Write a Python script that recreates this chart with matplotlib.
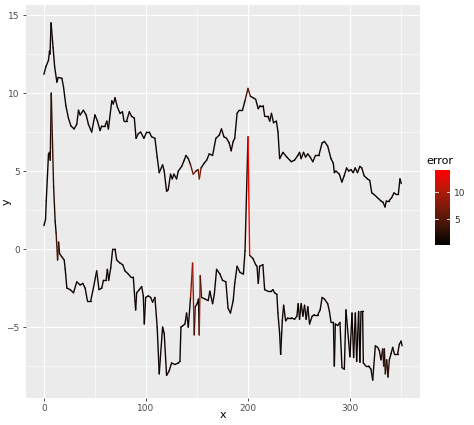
import numpy as np
import matplotlib.pyplot as plt
from matplotlib.collections import LineCollection
from matplotlib.colors import LinearSegmentedColormap, Normalize

# upper series
top_x = [0, 2, 4.5, 5.5, 6, 7, 9, 10.5, 12.7, 14,
         17.6, 19.2, 21.5, 24, 26.4, 29.6, 32.2, 33.9, 35.5, 38.7,
         41.4, 43.6, 46.8, 50, 52.5, 55, 56.7, 59.9, 61.6, 63.2,
         66.5, 68, 69.7, 72, 74.6, 77, 78.5, 81, 83.7, 86,
         88.6, 90.3, 92.5, 94.8, 98, 100.7, 103.3, 105.5, 108.8, 111,
         113, 116.3, 117.9, 120.2, 121.8, 124.1, 125.8, 127.4, 130, 131.7,
         135, 137.5, 139.2, 141.5, 143.7, 146.3, 149, 151.2, 152.3, 154,
         157, 159.5, 162, 165.3, 168.5, 171.8, 174, 176.4, 179, 181.6,
         183.5, 185.5, 187, 189.3, 191.3, 194.6, 197, 200, 202.3, 205,
         207.5, 210, 212, 214.8, 216.4, 219.6, 221.3, 223, 225, 227.8,
         229.4, 231, 234.3, 238, 242.4, 245.6, 248.8, 250.5, 252.1, 254.4,
         256.4, 258.6, 260.9, 263.5, 266.1, 269.4, 272.6, 274.9, 278.1, 281.3,
         283.6, 284.6, 286.2, 289.5, 292, 294.3, 296.6, 298.6, 300.8, 303.1,
         305, 307.3, 309.6, 311.5, 313.8, 317, 319.3, 321.3, 323.5, 326.8,
         330, 332.3, 334.3, 335.6, 338.2, 340.8, 343, 345.3, 347.3, 348.9,
         350.2]
top_y = [11.2, 11.7, 12.1, 12.7, 12.5, 14.5, 12.9, 11.7, 10.7, 11.0,
         10.95, 10.4, 9.2, 8.4, 7.9, 7.7, 8.0, 8.9, 8.6, 8.9,
         8.6, 8.0, 7.5, 8.6, 8.2, 7.6, 7.9, 7.9, 8.2, 7.7,
         9.5, 9.3, 9.7, 9.1, 8.7, 8.8, 8.2, 8.2, 8.8, 8.5,
         8.4, 7.1, 7.4, 7.5, 7.1, 7.5, 7.5, 7.2, 7.1, 5.9,
         4.9, 5.4, 5.0, 3.7, 3.8, 4.8, 4.5, 4.8, 4.5, 5.0,
         5.3, 5.7, 6.0, 5.8, 5.4, 4.8, 5.0, 5.1, 4.5, 5.2,
         5.5, 5.7, 6.1, 6.0, 7.1, 7.3, 7.7, 7.2, 7.1, 6.8,
         6.3, 6.9, 7.1, 8.7, 8.9, 8.9, 9.5, 10.3, 9.8, 9.7,
         9.6, 9.0, 9.2, 9.2, 8.5, 8.5, 8.2, 8.7, 8.1, 8.2,
         7.5, 5.8, 6.2, 5.9, 5.6, 5.7, 6.0, 6.2, 5.8, 6.2,
         5.9, 6.1, 5.9, 5.6, 6.0, 6.0, 6.8, 6.9, 6.6, 5.8,
         5.5, 4.9, 5.0, 4.8, 4.3, 4.7, 5.2, 5.0, 5.1, 4.9,
         5.2, 4.9, 5.3, 5.2, 4.7, 4.5, 4.4, 3.6, 3.5, 3.3,
         3.1, 3.0, 2.7, 3.1, 3.1, 3.3, 3.6, 3.5, 3.5, 4.5,
         4.2]
top_err = [1, 1, 1, 1, 1, 1, 1, 1, 1, 1,
           1, 1, 1, 1, 1, 1, 1, 1, 1, 1,
           1, 1, 1, 1, 1, 1, 1, 1, 1, 1,
           1, 1, 1, 1, 1, 1, 1, 1, 1, 1,
           1, 1, 1, 1, 1, 1, 1, 1, 1, 1,
           1, 1, 1, 1, 1, 1, 1, 1, 1, 1,
           1, 1, 1, 1, 6, 8, 2, 6, 8, 1,
           1, 1, 1, 1, 1, 1, 1, 1, 1, 1,
           1, 1, 1, 1, 1, 1, 4, 6, 1, 1,
           1, 1, 1, 1, 1, 1, 1, 1, 1, 1,
           1, 1, 1, 1, 1, 1, 1, 1, 1, 1,
           1, 1, 1, 1, 1, 1, 1, 1, 1, 1,
           1, 1, 1, 1, 1, 1, 1, 1, 1, 1,
           1, 1, 1, 1, 1, 1, 1, 1, 1, 1,
           1, 1, 1, 1, 1, 1, 1, 1, 1, 1,
           1]

# lower series
bot_x = [0, 1.6, 2.3, 4.5, 5.5, 6.2, 7.2, 9.5, 11, 12,
         13.4, 14.4, 15.4, 17.6, 19.9, 20.9, 22.5, 25.8, 29, 32.2,
         35.5, 38.1, 40.4, 42.6, 45.9, 48.5, 51.7, 54, 56.7, 58.3,
         60.9, 62.2, 63.5, 65.5, 67.4, 69.7, 71.3, 74.6, 77.2, 79.5,
         82.7, 85.3, 87.6, 89.2, 89.9, 90.9, 93.5, 95.8, 97.4, 98.4,
         99.7, 102.3, 104.6, 106.5, 108.8, 111, 113, 116.3, 117.9, 120.2,
         122.8, 125.1, 128.3, 131.7, 133.3, 134.3, 136.5, 138.2, 139.8, 141.5,
         143.7, 145.7, 147.3, 148.3, 150.2, 151.5, 152.2, 153.2, 154.5, 157.8,
         161, 162.6, 165.3, 167, 169.2, 172.5, 175, 178.3, 180.5, 182.8,
         185.5, 187, 189.3, 192.2, 195.5, 197.1, 200, 201.6, 204.8, 207.5,
         208.8, 210.1, 211.4, 214.6, 216.3, 219.5, 222.8, 224.4, 226, 228.3,
         229.3, 231, 232, 233.6, 234.9, 236.9, 239.1, 242.4, 245.6, 247.9,
         249.2, 250.5, 252.1, 253.8, 255.4, 257, 258.6, 260.3, 262.9, 265.1,
         268.4, 270.7, 272.6, 274.9, 278.1, 279.8, 281.4, 283.7, 284.6, 285.6,
         287.9, 290.1, 292.1, 294.4, 296, 299.9, 301.9, 303.5, 305.2, 306.5,
         308.4, 309.7, 310.7, 312.3, 313, 315.6, 318.2, 320.5, 322.2, 324.8,
         327, 328.7, 330.3, 332, 333, 333.6, 334.6, 335.9, 337.2, 338.5,
         340.2, 341.8, 343.4, 346.7, 348.3, 350, 351]
bot_y = [1.5, 1.9, 3.1, 6.1, 6.2, 5.7, 10.0, 4.0, 1.8, 1.0,
         -0.7, 0.45, -0.3, -0.5, -0.7, -1.3, -2.5, -2.6, -2.8, -2.1,
         -2.3, -2.2, -2.5, -3.3, -3.3, -2.5, -1.4, -2.6, -2.5, -2.0,
         -2.0, -1.3, -2.0, -1.2, 0.0, 0.0, -0.7, -0.9, -1.0, -1.4,
         -1.6, -1.8, -1.8, -3.3, -3.9, -2.8, -2.6, -2.4, -3.0, -4.8,
         -3.1, -3.0, -3.1, -3.4, -3.1, -5.0, -8.0, -5.0, -5.4, -8.1,
         -7.8, -7.3, -7.4, -7.3, -7.2, -5.0, -4.9, -4.8, -4.1, -5.0,
         -3.1, -0.9, -5.5, -3.7, -3.5, -3.2, -5.5, -1.7, -3.1, -3.2,
         -3.3, -2.7, -3.5, -2.9, -1.3, -1.6, -2.0, -2.1, -3.8, -4.1,
         -3.3, -2.2, -1.1, -1.5, -1.6, -0.1, 7.2, -0.4, -0.6, -1.0,
         -1.1, -2.2, -1.1, -1.0, -2.6, -2.7, -2.7, -2.6, -2.8, -2.9,
         -4.1, -5.4, -6.75, -4.6, -3.6, -4.6, -4.4, -4.4, -4.5, -4.3,
         -3.5, -4.5, -3.5, -4.3, -3.6, -4.5, -3.7, -4.8, -4.3, -4.2,
         -4.2, -3.9, -3.1, -3.2, -3.5, -4.0, -4.7, -4.7, -7.5, -4.8,
         -4.9, -4.7, -7.6, -7.7, -3.9, -6.9, -4.1, -6.95, -4.1, -7.2,
         -4.0, -7.25, -4.0, -4.0, -7.3, -7.5, -7.5, -7.7, -8.4, -6.2,
         -6.3, -6.5, -7.1, -6.4, -7.5, -6.4, -8.0, -7.1, -8.2, -7.1,
         -6.7, -6.3, -6.7, -6.7, -6.1, -5.9, -6.2]
bot_err = [0.2, 1, 1, 2, 2, 2, 3, 2, 1, 4,
           4, 3, 2, 1, 1, 1, 1, 1, 1, 1,
           1, 1, 1, 1, 1, 1, 1, 1, 1, 1,
           1, 1, 1, 1, 1, 1, 1, 1, 1, 1,
           1, 1, 1, 1, 1, 1, 1, 1, 1, 1,
           1, 1, 1, 1, 1, 1, 1, 1, 1, 1,
           1, 1, 1, 1, 1, 1, 1, 1, 1, 1,
           8, 9, 4, 1, 1, 1, 9, 5, 1, 1,
           1, 1, 1, 1, 1, 1, 1, 1, 1, 1,
           1, 1, 1, 1, 1, 1.5, 14.1, 2, 1, 1,
           1, 1, 1, 1, 1, 1, 1, 1, 1, 1,
           1, 1, 1, 1, 1, 1, 1, 1, 1, 1,
           1, 1, 1, 1, 1, 1, 1, 1, 1, 1,
           1, 1, 1, 1, 1, 1, 1, 1, 1, 1,
           1, 1, 1, 1, 1, 1, 1, 1, 1, 1,
           1, 1, 1, 1, 1, 1, 1, 1, 1, 1,
           1, 1, 3, 2, 4, 2, 4, 2, 3, 1,
           1, 1, 1, 1, 1, 1, 1]

# black -> red, roughly as ggplot's Lab interpolation
cmap = LinearSegmentedColormap.from_list(
    "err", ["#000000", "#3F1508", "#7A1B0C", "#BA1909", "#FF0000"])
all_err = top_err + bot_err
norm = Normalize(vmin=min(all_err), vmax=max(all_err))

W, H = 474, 425
fig = plt.figure(figsize=(W / 100, H / 100), dpi=100)
ax = fig.add_axes([26 / W, 1 - 398 / H, (420 - 26) / W, (398 - 5) / H])
ax.set_facecolor("#EBEBEB")

for xs, ys, es in [(top_x, top_y, top_err), (bot_x, bot_y, bot_err)]:
    pts = np.column_stack([xs, ys])
    segs = np.stack([pts[:-1], pts[1:]], axis=1)
    lc = LineCollection(segs, cmap=cmap, norm=norm, linewidths=1.0,
                        capstyle="round", joinstyle="round")
    lc.set_array(np.array(es[:-1], dtype=float))
    ax.add_collection(lc)

xmin, xmax = min(top_x + bot_x), max(top_x + bot_x)
ymin, ymax = min(top_y + bot_y), max(top_y + bot_y)
ax.set_xlim(xmin - 0.05 * (xmax - xmin), xmax + 0.05 * (xmax - xmin))
ax.set_ylim(ymin - 0.05 * (ymax - ymin), ymax + 0.05 * (ymax - ymin))

ax.set_xticks([0, 100, 200, 300])
ax.set_xticks([50, 150, 250, 350], minor=True)
ax.set_yticks([-5, 0, 5, 10, 15])
ax.set_yticks([-7.5, -2.5, 2.5, 7.5, 12.5], minor=True)
ax.grid(which="major", color="white", linewidth=0.8)
ax.grid(which="minor", color="white", linewidth=0.4)
ax.set_axisbelow(True)
for s in ax.spines.values():
    s.set_visible(False)
ax.tick_params(which="major", length=2.5, width=0.6, color="#333333",
               labelsize=6.5, labelcolor="#4D4D4D", pad=2)
ax.tick_params(which="minor", length=0)

# axis titles placed where the reference has them
fig.text(223 / W, 1 - 415 / H, "x", fontsize=8, ha="center", va="center")
fig.text(7 / W, 1 - 202 / H, "y", fontsize=8, ha="center", va="center",
         rotation=90)

# colour bar legend
cax = fig.add_axes([435 / W, 1 - 245 / H, 15 / W, 75 / H])
sm = plt.cm.ScalarMappable(cmap=cmap, norm=norm)
cb = fig.colorbar(sm, cax=cax)
cb.outline.set_visible(False)
cb.set_ticks([5, 10])
cax.tick_params(length=0, labelsize=6.5, labelcolor="#333333", pad=3)
for t in [5, 10]:
    cax.axhline(t, xmin=0, xmax=0.2, color="white", linewidth=0.6)
    cax.axhline(t, xmin=0.8, xmax=1, color="white", linewidth=0.6)
fig.text(426 / W, 1 - 161 / H, "error", fontsize=8, va="center", ha="left")

fig.savefig("out.png", dpi=100)
